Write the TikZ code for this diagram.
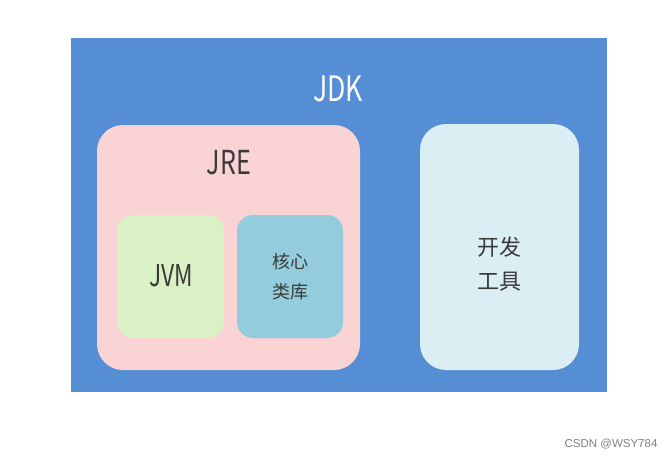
\documentclass[tikz,border=0pt]{standalone}
\usepackage{fontspec}
\setmainfont{Noto Sans CJK SC}
\newfontfamily\narrowfont[FakeStretch=0.76]{Noto Sans CJK SC}
\newfontfamily\wmfont{Liberation Sans}
\definecolor{jdkblue}{HTML}{558ED5}
\definecolor{jrepink}{HTML}{FAD4D5}
\definecolor{jvmgreen}{HTML}{D9F1C5}
\definecolor{libblue}{HTML}{93CDDD}
\definecolor{toolblue}{HTML}{DBEEF4}
\definecolor{txtdark}{HTML}{3A3A3A}
\begin{document}
\begin{tikzpicture}[x=1pt,y=-1pt,
  bigbox/.style={rounded corners=26pt},
  smallbox/.style={rounded corners=16pt},
  lbl/.style={text=txtdark,align=center,inner sep=0pt}]
\useasboundingbox (0,0) rectangle (671,460);
\fill[white] (0,0) rectangle (671,460);
\fill[jdkblue] (71,38) rectangle (607,392);
\node[text=white,inner sep=0pt,font=\narrowfont\fontsize{35}{40}\selectfont] (jdk) at (338,89) {JDK};
\fill[jrepink,bigbox] (97,125) rectangle (360,370);
\node[lbl,font=\narrowfont\fontsize{33}{38}\selectfont] (jre) at (229,163) {JRE};
\fill[toolblue,bigbox] (420,124) rectangle (579,370);
\node[lbl,font=\fontsize{22}{34}\selectfont] (tools) at (499,264) {开发\\工具};
\fill[jvmgreen,smallbox] (117,215) rectangle (224,338);
\node[lbl,font=\narrowfont\fontsize{30}{34}\selectfont] (jvm) at (171,276) {JVM};
\fill[libblue,smallbox] (237,215) rectangle (343,338);
\node[lbl,font=\fontsize{18}{30}\selectfont] (lib) at (290,277) {核心\\类库};
\node[text=gray,inner sep=0pt,font=\wmfont\fontsize{11.5}{14}\selectfont] (wm) at (611,444) {CSDN @WSY784};
\end{tikzpicture}
\end{document}
